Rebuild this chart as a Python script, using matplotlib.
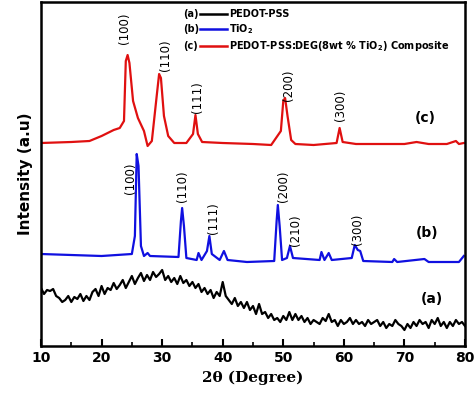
import numpy as np
import matplotlib
matplotlib.use("Agg")
import matplotlib.pyplot as plt

red_x = [10,15,18,20,22,23,23.7,24.0,24.3,24.6,25.2,26,27,27.6,28.3,29.1,29.5,29.8,30.3,31,32,34,35.1,35.5,35.9,36.6,40,45,48,49.6,50.0,50.3,50.7,51.3,52,55,58.8,59.3,59.8,62,70,72,74,77,78.5,79,79.8]
red_y = [203,204,205,210,216,218,225,285,291,283,245,228,215,200,205,250,272,268,230,210,203,203,212,231,212,204,203,202,201,215,245,248,230,206,202,201,203,218,204,202,202,204,202,202,205,202,203]

blue_x = [10,15,20,25,25.5,25.8,26.1,26.5,27,27.6,28,32.7,33.1,33.3,33.6,34,35.7,36,36.5,37.4,37.8,38.2,39.5,40.2,40.8,44,48.5,48.9,49.1,49.4,49.8,50.6,51.1,51.6,56,56.3,56.8,57.5,58,61.3,61.8,62.3,62.7,63.2,68,68.3,68.8,73.3,74,79,79.8]
blue_y = [92,91,90,92,110,192,180,100,90,93,90,89,125,138,120,88,86,93,86,95,110,92,86,95,86,84,85,125,141,120,86,88,100,88,86,94,86,93,86,88,101,96,95,85,84,87,84,87,84,84,90]

black_x = np.arange(10, 80.01, 0.5)
black_y = [58,52,56,55,57,50,48,44,46,50,
           44,49,47,52,45,50,46,54,57,50,
           60,52,58,56,63,57,61,66,58,64,
           70,62,68,73,65,71,66,74,69,72,
           76,66,70,64,68,62,70,63,66,60,
           64,58,62,54,58,52,56,48,54,50,
           64,50,46,42,48,40,44,38,44,36,
           40,32,42,32,34,28,32,26,28,24,
           30,26,34,26,32,26,30,24,28,22,
           26,24,22,28,25,32,24,26,20,26,
           22,24,28,22,26,22,24,20,26,22,
           24,26,20,24,18,22,20,26,22,20,
           16,22,18,24,20,26,22,24,18,26,
           22,28,20,24,18,24,20,26,22,24,
           20]

red_labels = ["(100)","(110)","(111)","(200)","(300)"]
red_lx = [23.8,30.5,35.8,50.8,59.5]
red_ly = [318,291,249,261,241]
blue_labels = ["(100)","(110)","(111)","(200)","(210)","(300)"]
blue_lx = [24.7,33.4,38.4,50.0,52.0,62.2]
blue_ly = [168,160,128,160,116,117]

fig = plt.figure(figsize=(4.74,4.04), dpi=100)
ax = fig.add_axes([41/474, 58/404, 424/474, 344/404])
ax.plot(black_x, black_y, color="black", lw=1.6)
ax.plot(blue_x, blue_y, color="#1010e0", lw=1.6)
ax.plot(red_x, red_y, color="#e01010", lw=1.6)
for t,x,y in zip(red_labels, red_lx, red_ly):
    ax.text(x, y, t, rotation=90, ha="center", va="center", fontsize=8.5)
for t,x,y in zip(blue_labels, blue_lx, blue_ly):
    ax.text(x, y, t, rotation=90, ha="center", va="center", fontsize=8.5)
for t,x,y in [("(c)",73.5,228),("(b)",73.8,113),("(a)",74.5,47)]:
    ax.text(x, y, t, ha="center", va="center", fontsize=10, fontweight="bold")

def fx(px): return (px-41)/424
def fy(py): return (346-py)/344
items = [("(a)","black","PEDOT-PSS",14),("(b)","#1010e0","TiO$_\\mathbf{2}$",29),
         ("(c)","#e01010","PEDOT-PSS:DEG(8wt % TiO$_\\mathbf{2}$) Composite",46)]
for a,c,lab,py in items:
    ax.text(fx(183), fy(py), a, transform=ax.transAxes, fontsize=7, fontweight="bold", va="center")
    ax.plot([fx(200), fx(227)], [fy(py), fy(py)], transform=ax.transAxes, color=c, lw=1.8)
    ax.text(fx(229), fy(py), lab, transform=ax.transAxes, fontsize=7, fontweight="bold", va="center")

ax.set_xlim(10, 80)
ax.set_ylim(0, 344)
ax.set_yticks([])
ax.set_xticks(range(10, 81, 10))
ax.set_xticks(range(15, 80, 10), minor=True)
ax.tick_params(axis="x", direction="in", length=5, width=1.5, labelsize=10)
ax.tick_params(axis="x", which="minor", direction="in", length=3, width=1.2)
for l in ax.get_xticklabels():
    l.set_fontweight("bold")
for s in ax.spines.values():
    s.set_linewidth(1.8)
ax.set_xlabel("2θ (Degree)", fontsize=11, fontweight="bold", family="DejaVu Serif")
ax.set_ylabel("Intensity (a.u)", fontsize=11, fontweight="bold", labelpad=6)
fig.savefig("out.png", dpi=100)
